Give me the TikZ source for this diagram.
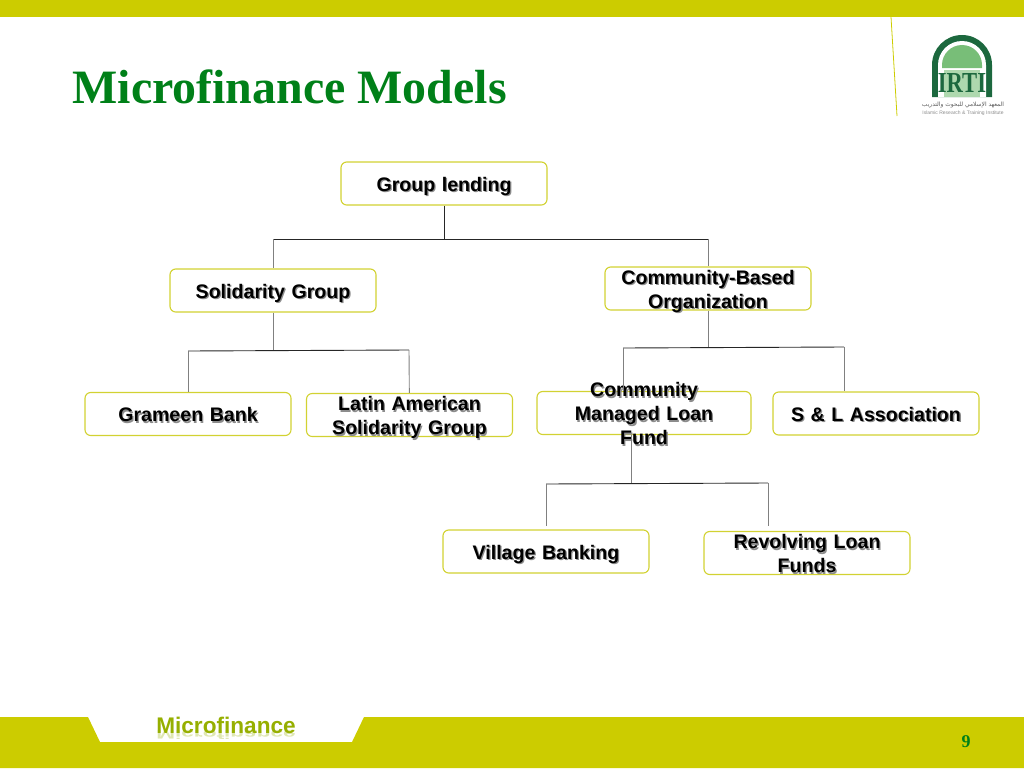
\documentclass[tikz,border=0pt]{standalone}
\usepackage{fontspec}
\setmainfont{Liberation Sans}
\newfontfamily\titlefont{Liberation Serif}
\newfontfamily\arabicfont[Script=Arabic]{DejaVu Sans}
\TeXXeTstate=1
\usetikzlibrary{positioning}

\definecolor{bandyellow}{RGB}{204,204,0}
\definecolor{boxyellow}{RGB}{210,210,50}
\definecolor{titlegreen}{RGB}{0,128,24}
\definecolor{footgreen}{RGB}{150,175,0}
\definecolor{logodark}{RGB}{28,104,62}
\definecolor{logolight}{RGB}{120,190,120}

\newcommand{\shadowline}[1]{\leavevmode\strut\rlap{\raisebox{-1.3pt}{\hspace{1.3pt}\textcolor{black!45}{#1}}}#1}
\newcommand{\boxtext}[1]{\parbox[c][24pt][c]{\linewidth}{\vspace*{6pt}\centering #1}}

\begin{document}
\begin{tikzpicture}[
    x=1pt, y=-1pt,
    model/.style={rectangle, draw=boxyellow, fill=white, line width=1.1pt, rounded corners=2mm,
        minimum width=206pt, minimum height=43pt, inner sep=0pt, text width=206pt,
        font=\fontsize{19.6}{24}\selectfont\bfseries},
    widemodel/.style={model, minimum width=214pt, text width=214pt},
    busline/.style={draw=black!85, line width=0.9pt},
    dropline/.style={draw=black!50, line width=0.9pt}
]
\useasboundingbox (0,0) rectangle (1024,768);

% bands
\fill[bandyellow] (0,0) rectangle (1024,17);
\fill[bandyellow] (0,717) -- (88,717) -- (100,742) -- (352,742) -- (364,717) -- (1024,717)
  -- (1024,768) -- (0,768) -- cycle;
\draw[bandyellow, line width=0.8pt] (891,17) -- (897,116);

% title and footer
\node (Title) [anchor=west, text=titlegreen, font=\fontsize{47.9}{50}\selectfont\titlefont\bfseries]
  at (69,87) {Microfinance Models};
\node (FooterMirror) [text=footgreen, opacity=0.3, font=\fontsize{22.6}{24}\selectfont\bfseries, inner sep=0pt]
  at (226,735) {\scalebox{1}[-0.55]{Microfinance}};
\node (Footer) [text=footgreen, font=\fontsize{22.6}{24}\selectfont\bfseries, inner sep=0pt]
  at (226,725) {Microfinance};
\node (PageNo) [text=titlegreen, font=\fontsize{18}{20}\selectfont\titlefont\bfseries, inner sep=0pt]
  at (966,742) {9};

% logo
\fill[logodark] (932,97) -- (932,65) arc[start angle=180, end angle=360, radius=30] -- (992,97) -- cycle;
\fill[white] (938,97) -- (938,65) arc[start angle=180, end angle=360, radius=24] -- (986,97) -- cycle;
\fill[logolight] (942,68) -- (942,65) arc[start angle=180, end angle=360, radius=20] -- (982,68) -- cycle;
\fill[logolight!60] (944,70) rectangle (980,97);
\node (LogoLetters) [text=logodark, font=\fontsize{29}{30}\selectfont\titlefont\bfseries, inner sep=0pt]
  at (962,83) {\scalebox{0.78}[1]{IRTI}};
\node (LogoArabic) [text=black!65, font=\fontsize{5.9}{7}\selectfont\arabicfont, inner sep=0pt]
  at (963,105) {\beginR المعهد الإسلامي للبحوث والتدريب\endR};
\node (LogoName) [text=black!45, font=\fontsize{5}{6}\selectfont, inner sep=0pt]
  at (963,113) {Islamic Research \& Training Institute};

% boxes
\node (Root) [model] at (444,183.5) {\boxtext{\shadowline{Group lending}}};
\node (Solidarity) [model] at (273,290.5) {\boxtext{\shadowline{Solidarity Group}}};
\node (Community) [model] at (708,288.5) {\boxtext{\shadowline{Community-Based}\\\shadowline{Organization}}};
\node (Grameen) [model] at (188,414) {\boxtext{\shadowline{Grameen Bank}}};
\node (Latin) [model] at (409.5,415) {\boxtext{\shadowline{Latin American}\\\shadowline{Solidarity Group}}};
\node (Managed) [widemodel] at (644,413) {\boxtext{\shadowline{Community}\\\shadowline{Managed Loan}\\\shadowline{Fund}}};
\node (Association) [model] at (876,413.5) {\boxtext{\shadowline{S \& L Association}}};
\node (Village) [model] at (546,551.5) {\boxtext{\shadowline{Village Banking}}};
\node (Revolving) [model] at (807,553) {\boxtext{\shadowline{Revolving Loan}\\\shadowline{Funds}}};

% connectors
\coordinate (Bus01) at (444,239);
\coordinate (Bus01a) at (273,239);
\coordinate (Bus01b) at (708,239);
\coordinate (Bus02) at (273,350.5);
\coordinate (Bus02a) at (188,351);
\coordinate (Bus02b) at (409,350);
\coordinate (Bus03) at (708,347.5);
\coordinate (Bus03a) at (623,348);
\coordinate (Bus03b) at (844,347);
\coordinate (Bus04) at (631,483.5);
\coordinate (Bus04a) at (546,484);
\coordinate (Bus04b) at (768,483);
\coordinate (End04a) at (546,526);
\coordinate (End04b) at (768,526);

\draw[busline] (Root) -- (Bus01);
\draw[busline] (Bus01a) -- (Bus01b);
\draw[dropline] (Bus01a) -- (Solidarity);
\draw[dropline] (Bus01b) -- (Community);

\draw[dropline] (Solidarity) -- (Bus02);
\draw[busline] (Bus02a) -- (Bus02b);
\draw[dropline] (Bus02a) -- (Grameen);
\draw[dropline] (Bus02b) -- (Latin);

\draw[dropline] (Community) -- (Bus03);
\draw[busline] (Bus03a) -- (Bus03b);
\draw[dropline] (Bus03a) -- (Managed.north -| Bus03a);
\draw[dropline] (Bus03b) -- (Association.north -| Bus03b);

\draw[dropline] (Managed.south -| Bus04) -- (Bus04);
\draw[busline] (Bus04a) -- (Bus04b);
\draw[dropline] (Bus04a) -- (End04a);
\draw[dropline] (Bus04b) -- (End04b);

\end{tikzpicture}
\end{document}
